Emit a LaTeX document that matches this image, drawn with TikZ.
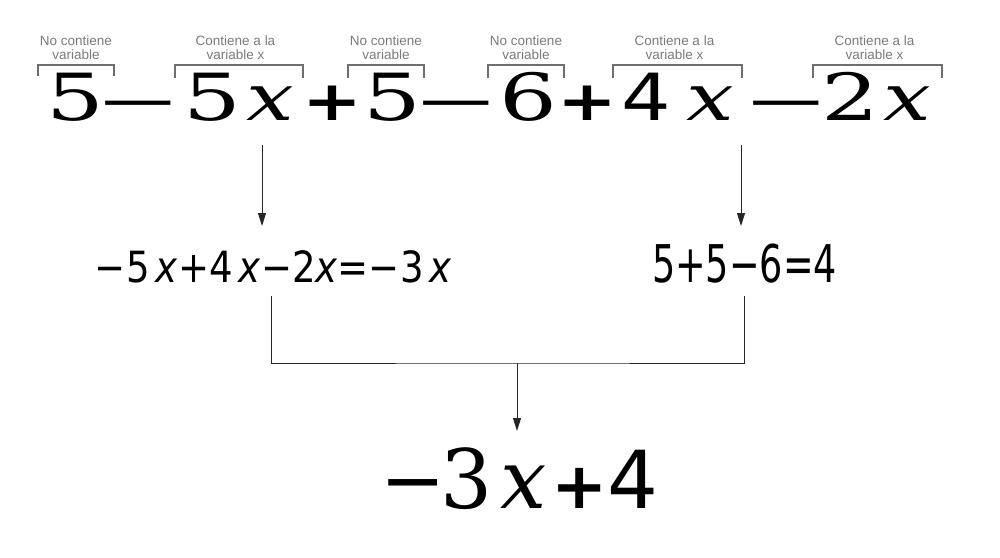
\documentclass[tikz,border=0pt]{standalone}
\usepackage{fontspec}
\setmainfont{DejaVu Serif}
\newfontfamily\dvsans{DejaVu Sans}
\newfontfamily\labfont{Liberation Sans}
\usetikzlibrary{arrows.meta}
\definecolor{labgray}{HTML}{7A7A7A}
\definecolor{brgray}{HTML}{6E6E6E}
\newcommand\wide[2]{\scalebox{#1}[1]{#2}}
\begin{document}
\begin{tikzpicture}[x=1pt,y=-1pt,
  big/.style={anchor=base,inner sep=0pt,outer sep=0pt,font=\fontsize{65}{65}\selectfont},
  bigx/.style={big,font=\fontsize{65}{65}\selectfont\itshape},
  bigplus/.style={big,font=\fontsize{55}{55}\selectfont\dvsans\bfseries},
  bigsans/.style={big,font=\fontsize{65}{65}\selectfont\dvsans},
  fin/.style={anchor=base,inner sep=0pt,outer sep=0pt,font=\fontsize{82}{82}\selectfont},
  finx/.style={fin,font=\fontsize{82}{82}\selectfont\itshape},
  finplus/.style={fin,font=\fontsize{64}{64}\selectfont\dvsans\bfseries},
  finsans/.style={fin,font=\fontsize{80}{80}\selectfont\dvsans},
  mid/.style={anchor=base,inner sep=0pt,outer sep=0pt,font=\dvsans},
  lab/.style={anchor=base,inner sep=0pt,outer sep=0pt,text=labgray,font=\fontsize{13.5}{14}\selectfont\labfont},
  bracket/.style={draw=brgray,line width=1.1pt},
  conn/.style={draw=black!85,line width=0.9pt},
  arr/.style={conn,-{Triangle[length=13pt,width=8pt]}}
]
\useasboundingbox (0,0) rectangle (1000,557);

% labels
\node[lab] (l1a) at (76,45) {No contiene};
\node[lab] (l1b) at (76,59) {variable};
\node[lab] (l2a) at (235.5,45) {Contiene a la};
\node[lab] (l2b) at (235.5,59) {variable x};
\node[lab] (l3a) at (386,45) {No contiene};
\node[lab] (l3b) at (386,59) {variable};
\node[lab] (l4a) at (526,45) {No contiene};
\node[lab] (l4b) at (526,59) {variable};
\node[lab] (l5a) at (674.5,45) {Contiene a la};
\node[lab] (l5b) at (674.5,59) {variable x};
\node[lab] (l6a) at (874.5,45) {Contiene a la};
\node[lab] (l6b) at (874.5,59) {variable x};

% brackets
\draw[bracket] (38,76) -- (38,65) -- (114,65) -- (114,76);
\draw[bracket] (175,78) -- (175,65) -- (303,65) -- (303,78);
\draw[bracket] (348,78) -- (348,65) -- (424,65) -- (424,78);
\draw[bracket] (488,78) -- (488,65) -- (564,65) -- (564,78);
\draw[bracket] (613,78) -- (613,65) -- (742,65) -- (742,78);
\draw[bracket] (813,78) -- (813,65) -- (942,65) -- (942,78);

% top expression
\node[big] (t1) at (75,120) {\wide{1.4}{5}};
\node[big] (t2) at (138.5,120) {\wide{1.1}{—}};
\node[big] (t3) at (212,120) {\wide{1.4}{5}};
\node[bigx] (t4) at (270,120) {\wide{1.3}{x}};
\node[bigplus] (t5) at (332.5,120) {\wide{1.3}{+}};
\node[big] (t6) at (392.5,120) {\wide{1.4}{5}};
\node[big] (t7) at (456,120) {\wide{1.1}{—}};
\node[big] (t8) at (528.5,120) {\wide{1.4}{6}};
\node[bigplus] (t9) at (587.5,120) {\wide{1.3}{+}};
\node[bigsans] (t10) at (646.5,120) {\wide{1.2}{4}};
\node[bigx] (t11) at (710,120) {\wide{1.3}{x}};
\node[big] (t12) at (786,120) {\wide{1.1}{—}};
\node[big] (t13) at (850,120) {\wide{1.4}{2}};
\node[bigx] (t14) at (907,120) {\wide{1.3}{x}};

% middle results
\node[mid,font=\fontsize{43}{43}\selectfont\dvsans] (m1) at (273.5,282)
  {\resizebox{357pt}{\height}{−5\,\textit{x}+4\,\textit{x}−2\textit{x}=−3\,\textit{x}}};
\node[mid,font=\fontsize{52}{52}\selectfont\dvsans] (m2) at (744.5,282)
  {\resizebox{185pt}{\height}{5+5−6=4}};

% final result
\node[fin] (f1) at (413,508) {\wide{0.95}{−}};
\node[fin] (f2) at (467,508) {3};
\node[finx] (f3) at (523.5,508) {x};
\node[finplus] (f4) at (580,508) {\wide{1.05}{+}};
\node[finsans] (f5) at (632.5,508) {4};

% connectors
\coordinate (a1s) at (262,145);
\coordinate (a1e) at (262,226);
\coordinate (a2s) at (741,145);
\coordinate (a2e) at (741,226);
\draw[arr] (a1s) -- (a1e);
\draw[arr] (a2s) -- (a2e);

\coordinate (jl) at (271,296);
\coordinate (jr) at (744,296);
\coordinate (jm) at (517,363);
\coordinate (fe) at (517,431);
\draw[conn] (jl) |- (jm) -| (jr);
\draw[arr] (jm) -- (fe);
\end{tikzpicture}
\end{document}
